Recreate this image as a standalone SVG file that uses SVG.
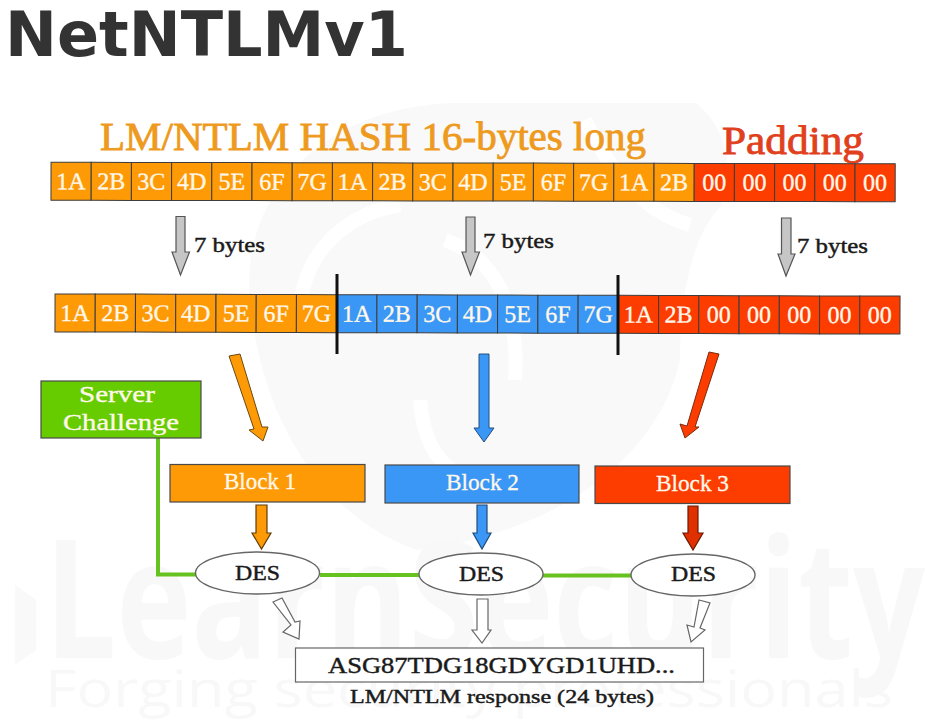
<svg xmlns="http://www.w3.org/2000/svg" width="933" height="720" viewBox="0 0 933 720">
<style>
.c{width:40.2px;height:38px;stroke:#3d3d3d;stroke-width:1}
.o{fill:#fd9a05}.b{fill:#3a97f5}.r{fill:#fd3c00}.g{fill:#66cc00}
.t{font-family:"Liberation Serif",serif;font-size:24px;fill:#fff7ea;stroke:#fff7ea;stroke-width:.35;text-anchor:middle}
.k{font-family:"Liberation Serif",serif;fill:#1a1a1a;stroke:#1a1a1a;stroke-width:.45}
.h{font-family:"Liberation Serif",serif;font-size:39px;stroke-width:.8}
.w{font-family:"Liberation Serif",serif;font-size:24px;fill:#fff7ea;stroke:#fff7ea;stroke-width:.35}
.box{stroke:#4a4a4a;stroke-width:1.2}
.gray{fill:#c6c6c6;stroke:#555;stroke-width:1.2}
.white{fill:#fff;stroke:#666;stroke-width:1.2}
.wm{font-family:"Open Sans",sans-serif;fill:#f8f8f8}
.el{fill:#fff;stroke:#666;stroke-width:1.4}
</style>
<rect width="933" height="720" fill="#fff"/>
<g id="watermark">
<path d="M250 300C240 190 330 103 460 103H696C730 130 735 180 720 207C690 240 680 300 680 360C660 450 570 530 417 550C330 520 262 430 250 300Z" fill="#f9f9f9"/>
<path d="M300 330C295 260 340 215 400 205M445 240C490 255 520 300 515 380M420 400C425 470 470 500 540 470M585 120C610 170 640 210 690 225" fill="none" stroke="#fff" stroke-width="14"/>
<polygon points="15,585 36,600 36,650 15,665" fill="#f9f9f9"/>
<text class="wm" x="45" y="658" font-size="165" font-weight="700" textLength="880" lengthAdjust="spacingAndGlyphs">LearnSecurity</text>
<text class="wm" x="45" y="707" font-size="52" textLength="848" lengthAdjust="spacingAndGlyphs">Forging security professionals</text>
</g>
<text id="title" x="5" y="56" font-family="DejaVu Sans,sans-serif" font-weight="700" font-size="62" fill="#333" textLength="403" lengthAdjust="spacingAndGlyphs">NetNTLMv1</text>
<text id="hash-label" class="h" x="100" y="150" fill="#ee9a1e" stroke="#ee9a1e" textLength="546" lengthAdjust="spacingAndGlyphs">LM/NTLM HASH 16-bytes long</text>
<text id="padding-label" class="h" x="722" y="154" fill="#e0401c" stroke="#e0401c" textLength="142" lengthAdjust="spacingAndGlyphs">Padding</text>
<g id="row1" transform="rotate(.1 473 182)">
<g id="a1" transform="translate(51 163)"><rect class="c o"/><text class="t" x="20" y="27">1A</text></g>
<g id="a2" transform="translate(91.2 163)"><rect class="c o"/><text class="t" x="20" y="27">2B</text></g>
<g id="a3" transform="translate(131.4 163)"><rect class="c o"/><text class="t" x="20" y="27">3C</text></g>
<g id="a4" transform="translate(171.6 163)"><rect class="c o"/><text class="t" x="20" y="27">4D</text></g>
<g id="a5" transform="translate(211.8 163)"><rect class="c o"/><text class="t" x="20" y="27">5E</text></g>
<g id="a6" transform="translate(252 163)"><rect class="c o"/><text class="t" x="20" y="27">6F</text></g>
<g id="a7" transform="translate(292.2 163)"><rect class="c o"/><text class="t" x="20" y="27">7G</text></g>
<g id="a8" transform="translate(332.4 163)"><rect class="c o"/><text class="t" x="20" y="27">1A</text></g>
<g id="a9" transform="translate(372.6 163)"><rect class="c o"/><text class="t" x="20" y="27">2B</text></g>
<g id="a10" transform="translate(412.8 163)"><rect class="c o"/><text class="t" x="20" y="27">3C</text></g>
<g id="a11" transform="translate(453 163)"><rect class="c o"/><text class="t" x="20" y="27">4D</text></g>
<g id="a12" transform="translate(493.2 163)"><rect class="c o"/><text class="t" x="20" y="27">5E</text></g>
<g id="a13" transform="translate(533.4 163)"><rect class="c o"/><text class="t" x="20" y="27">6F</text></g>
<g id="a14" transform="translate(573.6 163)"><rect class="c o"/><text class="t" x="20" y="27">7G</text></g>
<g id="a15" transform="translate(613.8 163)"><rect class="c o"/><text class="t" x="20" y="27">1A</text></g>
<g id="a16" transform="translate(654 163)"><rect class="c o"/><text class="t" x="20" y="27">2B</text></g>
<g id="a17" transform="translate(694.2 163)"><rect class="c r"/><text class="t" x="20" y="27">00</text></g>
<g id="a18" transform="translate(734.4 163)"><rect class="c r"/><text class="t" x="20" y="27">00</text></g>
<g id="a19" transform="translate(774.6 163)"><rect class="c r"/><text class="t" x="20" y="27">00</text></g>
<g id="a20" transform="translate(814.8 163)"><rect class="c r"/><text class="t" x="20" y="27">00</text></g>
<g id="a21" transform="translate(855 163)"><rect class="c r"/><text class="t" x="20" y="27">00</text></g>
</g>
<g id="row2" transform="rotate(.15 477 314)">
<g id="b1" transform="translate(55 295)"><rect class="c o"/><text class="t" x="20" y="27">1A</text></g>
<g id="b2" transform="translate(95.2 295)"><rect class="c o"/><text class="t" x="20" y="27">2B</text></g>
<g id="b3" transform="translate(135.5 295)"><rect class="c o"/><text class="t" x="20" y="27">3C</text></g>
<g id="b4" transform="translate(175.7 295)"><rect class="c o"/><text class="t" x="20" y="27">4D</text></g>
<g id="b5" transform="translate(216 295)"><rect class="c o"/><text class="t" x="20" y="27">5E</text></g>
<g id="b6" transform="translate(256.2 295)"><rect class="c o"/><text class="t" x="20" y="27">6F</text></g>
<g id="b7" transform="translate(296.4 295)"><rect class="c o"/><text class="t" x="20" y="27">7G</text></g>
<g id="b8" transform="translate(336.7 295)"><rect class="c b"/><text class="t" x="20" y="27">1A</text></g>
<g id="b9" transform="translate(376.9 295)"><rect class="c b"/><text class="t" x="20" y="27">2B</text></g>
<g id="b10" transform="translate(417.2 295)"><rect class="c b"/><text class="t" x="20" y="27">3C</text></g>
<g id="b11" transform="translate(457.4 295)"><rect class="c b"/><text class="t" x="20" y="27">4D</text></g>
<g id="b12" transform="translate(497.6 295)"><rect class="c b"/><text class="t" x="20" y="27">5E</text></g>
<g id="b13" transform="translate(537.9 295)"><rect class="c b"/><text class="t" x="20" y="27">6F</text></g>
<g id="b14" transform="translate(578.1 295)"><rect class="c b"/><text class="t" x="20" y="27">7G</text></g>
<g id="b15" transform="translate(618.4 295)"><rect class="c r"/><text class="t" x="20" y="27">1A</text></g>
<g id="b16" transform="translate(658.6 295)"><rect class="c r"/><text class="t" x="20" y="27">2B</text></g>
<g id="b17" transform="translate(698.8 295)"><rect class="c r"/><text class="t" x="20" y="27">00</text></g>
<g id="b18" transform="translate(739.1 295)"><rect class="c r"/><text class="t" x="20" y="27">00</text></g>
<g id="b19" transform="translate(779.3 295)"><rect class="c r"/><text class="t" x="20" y="27">00</text></g>
<g id="b20" transform="translate(819.6 295)"><rect class="c r"/><text class="t" x="20" y="27">00</text></g>
<g id="b21" transform="translate(859.8 295)"><rect class="c r"/><text class="t" x="20" y="27">00</text></g>
</g>
<g id="dividers" stroke="#111" stroke-width="3">
<line x1="337" y1="274" x2="337" y2="354"/>
<line x1="618" y1="275" x2="618" y2="355"/>
</g>
<g id="connectors">
<path d="M158 438V574.500H196M320 575H419M543 575.500H631" fill="none" stroke="#66c21e" stroke-width="4"/>
<polygon class="gray" points="176,216.500 185,216.500 185,252 189.500,252 180.500,275 172,252 176,252"/>
<polygon class="gray" points="466,217 475,217 475,252 479.500,252 470.500,275 462,252 466,252"/>
<polygon class="gray" points="781.500,218 791,218 791,254 795,254 786,276 778,254 781.500,254"/>
<polygon points="229,356 240,354 262,427 268,427 263,441 249,430 254,429" fill="#fd9a05" stroke="#6b4a10" stroke-width="1"/>
<polygon points="479,354 489,354 489,428 494,428 484,442 474,428 479,428" fill="#3a97f5" stroke="#23507f" stroke-width="1"/>
<polygon points="709,352 719,354 695,427 699,427 685,438 680,424 687,426" fill="#fd3c00" stroke="#7c2a10" stroke-width="1"/>
<polygon points="256,505 267,505 267,533 271,533 261.500,549 252,533 256,533" fill="#fd9a05" stroke="#5f3d08" stroke-width="1.200"/>
<polygon points="477,505 487,505 487,533 491,533 482,549 473,533 477,533" fill="#3a97f5" stroke="#1f4c7c" stroke-width="1.200"/>
<polygon points="688,506 698,506 698,533 703,533 693,550 683,533 688,533" fill="#e03000" stroke="#6b1a04" stroke-width="1.200"/>
<polygon class="white" points="273,602 282,598 295,622 300,621 299,639 283,632 291,625"/>
<polygon class="white" points="477,599 488,599 488,630 491,630 482,643 472,630 477,630"/>
<polygon class="white" points="699,600 710,603 700,628 705,630 691,642 687,625 694,627"/>
</g>
<g id="server-challenge"><rect class="box g" x="41" y="381" width="160" height="57"/><text class="w" x="79" y="402" textLength="76" lengthAdjust="spacingAndGlyphs">Server</text><text class="w" x="63" y="430" textLength="116" lengthAdjust="spacingAndGlyphs">Challenge</text></g>
<g id="block1"><rect class="box o" x="170" y="464.500" width="195" height="37.500"/><text class="w" x="224" y="489" textLength="72" lengthAdjust="spacingAndGlyphs">Block 1</text></g>
<g id="block2"><rect class="box b" x="385" y="465" width="194" height="38"/><text class="w" x="446" y="490" textLength="73" lengthAdjust="spacingAndGlyphs">Block 2</text></g>
<g id="block3"><rect class="box r" x="595" y="466" width="195" height="37.500"/><text class="w" x="656" y="491" textLength="73" lengthAdjust="spacingAndGlyphs">Block 3</text></g>
<g id="des1"><ellipse class="el" cx="257.500" cy="573" rx="62" ry="21"/><text class="k" x="235" y="580" font-size="22" textLength="45" lengthAdjust="spacingAndGlyphs">DES</text></g>
<g id="des2"><ellipse class="el" cx="481" cy="574" rx="62" ry="21"/><text class="k" x="459" y="581" font-size="22" textLength="45" lengthAdjust="spacingAndGlyphs">DES</text></g>
<g id="des3"><ellipse class="el" cx="693" cy="575" rx="62" ry="21"/><text class="k" x="671" y="581" font-size="22" textLength="45" lengthAdjust="spacingAndGlyphs">DES</text></g>
<g id="response"><rect x="295.500" y="648" width="408" height="34" fill="#fff" stroke="#666" stroke-width="1.200"/><text class="k" x="328" y="673" font-size="24" textLength="347" lengthAdjust="spacingAndGlyphs">ASG87TDG18GDYGD1UHD...</text></g>
<text id="response-label" class="k" x="350" y="703" font-size="19" textLength="304" lengthAdjust="spacingAndGlyphs">LM/NTLM response (24 bytes)</text>
<text id="l1" class="k" x="194" y="252" font-size="21" textLength="71" lengthAdjust="spacingAndGlyphs">7 bytes</text>
<text id="l2" class="k" x="483" y="248" font-size="21" textLength="71" lengthAdjust="spacingAndGlyphs">7 bytes</text>
<text id="l3" class="k" x="797" y="253" font-size="21" textLength="71" lengthAdjust="spacingAndGlyphs">7 bytes</text>
</svg>
